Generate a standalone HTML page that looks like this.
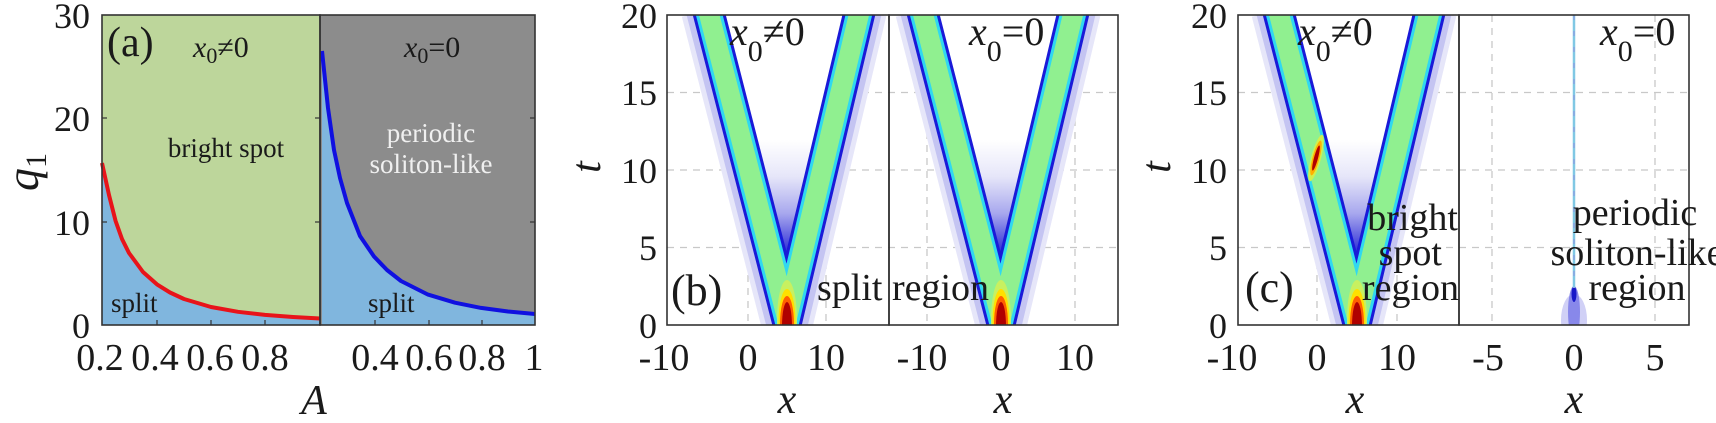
<!DOCTYPE html>
<html><head><meta charset="utf-8"><style>
html,body{margin:0;padding:0;background:#fff}
svg{display:block}
text{font-family:"Liberation Serif",serif;fill:#1a1a1a}
.tk{font-size:38px}
.ty{font-size:36px}
.it{font-style:italic}
.g{stroke:#c8c8c8;stroke-width:1.3;stroke-dasharray:7,6;fill:none}
.ax{fill:none;stroke:#333;stroke-width:1.6}
</style></head><body>
<svg width="1716" height="423" viewBox="0 0 1716 423" xmlns="http://www.w3.org/2000/svg">
<defs>
<linearGradient id="hz" gradientUnits="userSpaceOnUse" x1="0" y1="140" x2="0" y2="262">
<stop offset="0" stop-color="#ffffff"/>
<stop offset="0.3" stop-color="#e6e6f9"/>
<stop offset="0.6" stop-color="#a8a8ee"/>
<stop offset="0.85" stop-color="#4848dc"/>
<stop offset="1" stop-color="#1818c8"/>
</linearGradient>
<g id="V">
<polyline points="-79,10 0,318 73,10" fill="none" stroke="#e6e6f9" stroke-width="54" stroke-linejoin="miter" stroke-miterlimit="20"/>
<polyline points="-79,10 0,318 73,10" fill="none" stroke="#c4c4f2" stroke-width="44" stroke-linejoin="miter" stroke-miterlimit="20"/>
<path d="M-79,10 L0,318 L73,10 Z" fill="url(#hz)"/>
<polyline points="-79,10 0,318 73,10" fill="none" stroke="#1a1ad8" stroke-width="32" stroke-linejoin="miter" stroke-miterlimit="20"/>
<polyline points="-79,10 0,318 73,10" fill="none" stroke="#30d8f0" stroke-width="26" stroke-linejoin="miter" stroke-miterlimit="20"/>
<polyline points="-79,10 0,318 73,10" fill="none" stroke="#90f090" stroke-width="20" stroke-linejoin="miter" stroke-miterlimit="20"/>
<ellipse cx="0" cy="320" rx="10" ry="40" fill="#c8f060"/>
<ellipse cx="0" cy="322" rx="8.5" ry="33" fill="#ffe000"/>
<ellipse cx="0" cy="324" rx="7" ry="28" fill="#ff6000"/>
<ellipse cx="0" cy="326" rx="5" ry="24" fill="#b00000"/>
</g>
<clipPath id="cb1"><rect x="667" y="15" width="222" height="310"/></clipPath>
<clipPath id="cb2"><rect x="889" y="15" width="229" height="310"/></clipPath>
<clipPath id="cc1"><rect x="1238" y="15" width="221" height="310"/></clipPath>
<clipPath id="cc2"><rect x="1459" y="15" width="230" height="310"/></clipPath>
</defs>

<!-- Panel (a) -->
<rect x="102" y="15" width="218" height="310" fill="#bdd69b"/>
<rect x="320" y="15" width="215" height="310" fill="#8c8c8c"/>
<path d="M102,163 L109,195 L115.6,221 L122,239 L129,253 L143,272 L157,284.4 L170,292.5 L184,299 L211,307 L238,311.8 L265,314.9 L293,317 L320,318.5 L320,325 L102,325 Z" fill="#80b6de"/>
<polyline points="102,163 109,195 115.6,221 122,239 129,253 143,272 157,284.4 170,292.5 184,299 211,307 238,311.8 265,314.9 293,317 320,318.5" fill="none" stroke="#e8141a" stroke-width="4" stroke-linejoin="round"/>
<path d="M322,51 L328,108 L334,150 L340,178 L347,203 L360,236 L374,256.5 L387,270 L401,281 L428,294.6 L455,302.7 L481,307.9 L508,311.5 L535,314 L535,325 L322,325 Z" fill="#80b6de"/>
<polyline points="322,51 328,108 334,150 340,178 347,203 360,236 374,256.5 387,270 401,281 428,294.6 455,302.7 481,307.9 508,311.5 535,314" fill="none" stroke="#1010e0" stroke-width="4" stroke-linejoin="round"/>
<rect x="102" y="15" width="218" height="310" class="ax"/>
<rect x="320" y="15" width="215" height="310" class="ax"/>
<g stroke="#333" stroke-width="1.2">
<line x1="157" y1="325" x2="157" y2="320"/><line x1="211" y1="325" x2="211" y2="320"/><line x1="265" y1="325" x2="265" y2="320"/>
<line x1="375" y1="325" x2="375" y2="320"/><line x1="429" y1="325" x2="429" y2="320"/><line x1="482" y1="325" x2="482" y2="320"/>
<line x1="102" y1="118" x2="107" y2="118"/><line x1="102" y1="222" x2="107" y2="222"/>
<line x1="315" y1="118" x2="320" y2="118"/><line x1="315" y1="222" x2="320" y2="222"/>
<line x1="530" y1="118" x2="535" y2="118"/><line x1="530" y1="222" x2="535" y2="222"/>
</g>
<text x="107" y="56" style="font-size:42px">(a)</text>
<text x="193" y="57" class="it" style="font-size:30px">x<tspan style="font-style:normal;font-size:22px" dy="6">0</tspan><tspan dy="-6" style="font-style:normal">≠0</tspan></text>
<text x="404" y="57" class="it" style="font-size:30px">x<tspan style="font-style:normal;font-size:22px" dy="6">0</tspan><tspan dy="-6" style="font-style:normal">=0</tspan></text>
<text x="226" y="157" text-anchor="middle" style="font-size:27px">bright spot</text>
<text x="431" y="142" text-anchor="middle" style="font-size:27px;fill:#f0f0f0">periodic</text>
<text x="431" y="173" text-anchor="middle" style="font-size:27px;fill:#f0f0f0">soliton-like</text>
<text x="111" y="312" style="font-size:27px">split</text>
<text x="368" y="312" style="font-size:27px">split</text>
<g class="ty" text-anchor="end">
<text x="90" y="28">30</text><text x="90" y="131">20</text><text x="90" y="235">10</text><text x="90" y="338">0</text>
</g>
<g class="tk" text-anchor="middle">
<text x="100" y="370">0.2</text><text x="155" y="370">0.4</text><text x="210" y="370">0.6</text><text x="265" y="370">0.8</text>
<text x="375" y="370">0.4</text><text x="429" y="370">0.6</text><text x="482" y="370">0.8</text><text x="534" y="370">1</text>
</g>
<text x="314" y="414" text-anchor="middle" class="it" style="font-size:42px">A</text>
<text transform="translate(38,172) rotate(-90)" text-anchor="middle" class="it" style="font-size:46px">q<tspan style="font-style:normal;font-size:30px" dy="8">1</tspan></text>

<!-- Panel (b) -->
<g class="g">
<line x1="748" y1="15" x2="748" y2="325"/><line x1="826" y1="15" x2="826" y2="325"/>
<line x1="927" y1="15" x2="927" y2="325"/><line x1="1001" y1="15" x2="1001" y2="325"/><line x1="1075" y1="15" x2="1075" y2="325"/>
<line x1="667" y1="92.5" x2="1118" y2="92.5"/><line x1="667" y1="170" x2="1118" y2="170"/><line x1="667" y1="247.5" x2="1118" y2="247.5"/>
</g>
<g clip-path="url(#cb1)"><use href="#V" transform="translate(787,0)"/></g>
<g clip-path="url(#cb2)"><use href="#V" transform="translate(1001,0)"/></g>
<rect x="667" y="15" width="222" height="310" class="ax"/>
<rect x="889" y="15" width="229" height="310" class="ax"/>
<text x="730" y="45" class="it" style="font-size:40px">x<tspan style="font-style:normal;font-size:30px" dy="16">0</tspan><tspan dy="-16" style="font-style:normal">≠0</tspan></text>
<text x="969" y="45" class="it" style="font-size:40px">x<tspan style="font-style:normal;font-size:30px" dy="16">0</tspan><tspan dy="-16" style="font-style:normal">=0</tspan></text>
<text x="671" y="305" style="font-size:44px">(b)</text>
<text x="817" y="300" style="font-size:38px">split region</text>
<g class="ty" text-anchor="end">
<text x="657" y="28">20</text><text x="657" y="105">15</text><text x="657" y="183">10</text><text x="657" y="260">5</text><text x="657" y="338">0</text>
</g>
<g class="tk" text-anchor="middle">
<text x="664" y="370">-10</text><text x="748" y="370">0</text><text x="826" y="370">10</text>
<text x="922" y="370">-10</text><text x="1001" y="370">0</text><text x="1075" y="370">10</text>
</g>
<text transform="translate(600,167) rotate(-90)" text-anchor="middle" class="it" style="font-size:42px">t</text>
<text x="787" y="413" text-anchor="middle" class="it" style="font-size:42px">x</text>
<text x="1003" y="413" text-anchor="middle" class="it" style="font-size:42px">x</text>

<!-- Panel (c) -->
<g class="g">
<line x1="1317" y1="15" x2="1317" y2="325"/><line x1="1397" y1="15" x2="1397" y2="325"/>
<line x1="1492" y1="15" x2="1492" y2="325"/><line x1="1574" y1="15" x2="1574" y2="325"/><line x1="1655" y1="15" x2="1655" y2="325"/>
<line x1="1238" y1="92.5" x2="1689" y2="92.5"/><line x1="1238" y1="170" x2="1689" y2="170"/><line x1="1238" y1="247.5" x2="1689" y2="247.5"/>
</g>
<g clip-path="url(#cc1)">
<use href="#V" transform="translate(1357,0)"/>
<ellipse cx="1316" cy="158" rx="5" ry="24" fill="#d0f050" transform="rotate(15 1316 158)"/>
<ellipse cx="1316" cy="158" rx="3.5" ry="18" fill="#ffb000" transform="rotate(15 1316 158)"/>
<ellipse cx="1316" cy="158" rx="2" ry="13" fill="#b00000" transform="rotate(15 1316 158)"/>
</g>
<g clip-path="url(#cc2)">
<ellipse cx="1574" cy="320" rx="13" ry="26" fill="#d0d0f6"/>
<ellipse cx="1574" cy="312" rx="6" ry="26" fill="#8888ea"/>
<ellipse cx="1574" cy="294" rx="2.5" ry="8" fill="#1818c8"/>
<line x1="1574" y1="15" x2="1574" y2="288" stroke="#80c8e4" stroke-width="2.5"/>
<line x1="1574" y1="15" x2="1574" y2="288" stroke="#9090e0" stroke-width="1" stroke-dasharray="5,11"/>
</g>
<rect x="1238" y="15" width="221" height="310" class="ax"/>
<rect x="1459" y="15" width="230" height="310" class="ax"/>
<text x="1298" y="45" class="it" style="font-size:40px">x<tspan style="font-style:normal;font-size:30px" dy="16">0</tspan><tspan dy="-16" style="font-style:normal">≠0</tspan></text>
<text x="1600" y="45" class="it" style="font-size:40px">x<tspan style="font-style:normal;font-size:30px" dy="16">0</tspan><tspan dy="-16" style="font-style:normal">=0</tspan></text>
<text x="1245" y="302" style="font-size:44px">(c)</text>
<g style="font-size:38px">
<text x="1458" y="230" text-anchor="end">bright</text>
<text x="1442" y="265" text-anchor="end">spot</text>
<text x="1459" y="300" text-anchor="end">region</text>
<text x="1635" y="225" text-anchor="middle">periodic</text>
<text x="1637" y="265" text-anchor="middle">soliton-like</text>
<text x="1637" y="300" text-anchor="middle">region</text>
</g>
<g class="ty" text-anchor="end">
<text x="1227" y="28">20</text><text x="1227" y="105">15</text><text x="1227" y="183">10</text><text x="1227" y="260">5</text><text x="1227" y="338">0</text>
</g>
<g class="tk" text-anchor="middle">
<text x="1232" y="370">-10</text><text x="1317" y="370">0</text><text x="1397" y="370">10</text>
<text x="1488" y="370">-5</text><text x="1574" y="370">0</text><text x="1655" y="370">5</text>
</g>
<text transform="translate(1170,167) rotate(-90)" text-anchor="middle" class="it" style="font-size:42px">t</text>
<text x="1355" y="413" text-anchor="middle" class="it" style="font-size:42px">x</text>
<text x="1574" y="413" text-anchor="middle" class="it" style="font-size:42px">x</text>
</svg>
</body></html>
